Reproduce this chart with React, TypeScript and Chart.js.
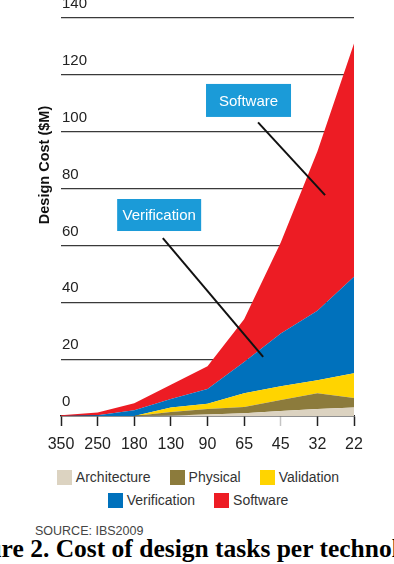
import React, { useEffect, useRef } from "react";
import { Chart, registerables } from "chart.js";

Chart.register(...registerables);

// ---- data ----
const nodes = ["350", "250", "180", "130", "90", "65", "45", "32", "22"];
const architecture = [0, 0, 0, 0.2, 0.5, 1, 1.8, 2.5, 3];
const physical = [0, 0, 0, 1.2, 2, 2.2, 3.8, 5.5, 3.3];
const validation = [0, 0, 0, 1.6, 1.8, 4.8, 4.9, 4.6, 8.7];
const verification = [0, 0.3, 2, 3, 5.2, 11, 18.5, 24.4, 34];
const software = [0.3, 0.9, 2.5, 5, 8, 15, 32, 56, 82];

const seriesNames = ["Architecture", "Physical", "Validation", "Verification", "Software"];
const seriesData = [architecture, physical, validation, verification, software];
const seriesColors = ["#dcd3c1", "#8c7b3c", "#ffd400", "#0071bc", "#ed1c24"];
const legendRows = [[0, 1, 2], [3, 4]];

const yTitle = "Design Cost ($M)";
const sourceText = "SOURCE: IBS2009";
const captionText = "Figure 2. Cost of design tasks per technology node";

// annotation callouts, anchored in data space (category index, value)
const callouts = [
  { text: "Software", at: [5.12, 111], size: [85, 33], from: [5.38, 103.3], to: [7.21, 77.7] },
  { text: "Verification", at: [2.68, 70.7], size: [84, 32], from: [2.78, 62.6], to: [5.52, 20.8] },
];

const FONT = "'Liberation Sans', Arial, sans-serif";

const calloutPlugin = {
  id: "callouts",
  afterDatasetsDraw(chart: any) {
    const { ctx, scales } = chart;
    const xs = scales.x;
    const ys = scales.y;
    ctx.save();
    for (const c of callouts) {
      // leader line
      ctx.strokeStyle = "#111";
      ctx.lineWidth = 2;
      ctx.beginPath();
      ctx.moveTo(xs.getPixelForValue(c.from[0]), ys.getPixelForValue(c.from[1]));
      ctx.lineTo(xs.getPixelForValue(c.to[0]), ys.getPixelForValue(c.to[1]));
      ctx.stroke();
      // box
      const cx = xs.getPixelForValue(c.at[0]);
      const cy = ys.getPixelForValue(c.at[1]);
      const [w, h] = c.size;
      ctx.fillStyle = "#1b9bd8";
      ctx.fillRect(cx - w / 2, cy - h / 2, w, h);
      ctx.fillStyle = "#ffffff";
      ctx.font = `15px ${FONT}`;
      ctx.textAlign = "center";
      ctx.textBaseline = "middle";
      ctx.fillText(c.text, cx, cy + 1);
    }
    // y-axis title
    ctx.translate(45, 165);
    ctx.rotate(-Math.PI / 2);
    ctx.fillStyle = "#111";
    ctx.font = `bold 14.5px ${FONT}`;
    ctx.textAlign = "center";
    ctx.textBaseline = "middle";
    ctx.fillText(yTitle, 0, 0);
    ctx.restore();
  },
};

export default function App() {
  const canvasRef = useRef<HTMLCanvasElement | null>(null);

  useEffect(() => {
    if (!canvasRef.current) return;
    const chart = new Chart(canvasRef.current, {
      type: "line",
      data: {
        labels: nodes,
        datasets: seriesNames.map((name, i) => ({
          label: name,
          data: seriesData[i],
          backgroundColor: seriesColors[i],
          borderColor: seriesColors[i],
          borderWidth: 0,
          pointRadius: 0,
          tension: 0,
          fill: i === 0 ? "origin" : "-1",
        })),
      },
      options: {
        animation: false,
        responsive: false,
        layout: { padding: { left: 61, right: 40, top: 18, bottom: 0 } },
        plugins: {
          legend: { display: false },
          tooltip: { enabled: false },
        },
        scales: {
          x: {
            type: "category",
            offset: false,
            afterFit: (s: any) => {
              s.height = 44;
            },
            border: { display: true, color: "#222", width: 1.5 },
            grid: {
              drawOnChartArea: false,
              drawTicks: true,
              tickLength: 10,
              tickWidth: 1.5,
              tickColor: (c: any) => (c.index === 6 ? "#c4c4c4" : "#222"),
            },
            ticks: {
              color: "#222",
              font: { family: FONT, size: 16 },
              padding: 9,
              maxRotation: 0,
              autoSkip: false,
            },
          },
          y: {
            stacked: true,
            min: 0,
            max: 140,
            afterFit: (s: any) => {
              s.width = 0;
            },
            border: { display: false },
            grid: {
              drawTicks: false,
              lineWidth: 1.2,
              color: (c: any) => (c.tick && c.tick.value === 0 ? "rgba(0,0,0,0)" : "#3a3a3a"),
            },
            ticks: {
              stepSize: 20,
              mirror: true,
              padding: 1,
              labelOffset: -14,
              color: "#222",
              font: { family: FONT, size: 15 },
            },
          },
        },
      },
      plugins: [calloutPlugin],
    });
    return () => chart.destroy();
  }, []);

  return (
    <div
      style={{
        position: "absolute",
        left: 0,
        top: 0,
        width: 394,
        height: 564,
        overflow: "hidden",
        background: "#fff",
      }}
    >
      <canvas
        ref={canvasRef}
        width={394}
        height={460}
        style={{ position: "absolute", left: 0, top: 0, width: 394, height: 460 }}
      />
      {legendRows.map((row, r) => (
        <div
          key={r}
          style={{
            position: "absolute",
            left: 0,
            top: 470 + r * 22.5,
            width: 396,
            display: "flex",
            justifyContent: "center",
            gap: 19,
            fontFamily: FONT,
            fontSize: 14,
            lineHeight: "15px",
            color: "#333",
          }}
        >
          {row.map((i) => (
            <div key={i} style={{ display: "flex", alignItems: "center", gap: 4 }}>
              <span
                style={{ display: "inline-block", width: 15, height: 15, background: seriesColors[i] }}
              />
              <span>{seriesNames[i]}</span>
            </div>
          ))}
        </div>
      ))}
      <div
        style={{
          position: "absolute",
          left: 35,
          top: 524,
          fontFamily: FONT,
          fontSize: 12.5,
          lineHeight: "15px",
          color: "#444",
          whiteSpace: "nowrap",
        }}
      >
        {sourceText}
      </div>
      <div
        style={{
          position: "absolute",
          left: -48,
          top: 535,
          fontFamily: "'Liberation Serif', 'Times New Roman', serif",
          fontWeight: "bold",
          fontSize: 25.5,
          lineHeight: "28px",
          color: "#000",
          whiteSpace: "nowrap",
        }}
      >
        {captionText}
      </div>
    </div>
  );
}
